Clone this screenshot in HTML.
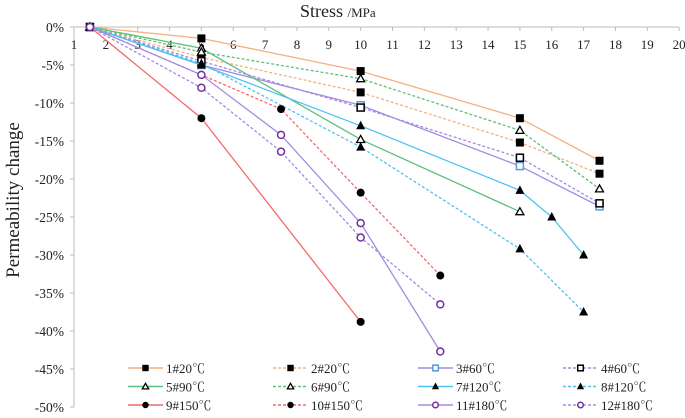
<!DOCTYPE html>
<html><head><meta charset="utf-8"><style>
body{margin:0;background:#fff;}
svg text{font-family:"Liberation Serif","Noto Serif CJK SC",serif;fill:#222;}
</style></head><body>
<svg id="c" width="685" height="413" xmlns="http://www.w3.org/2000/svg"></svg>
<script>
const xTicks=[1,2,3,4,5,6,7,8,9,10,11,12,13,14,15,16,17,18,19,20];
const yTicks=[0,-5,-10,-15,-20,-25,-30,-35,-40,-45,-50];
const names=["1#20℃","2#20℃","3#60℃","4#60℃","5#90℃","6#90℃","7#120℃","8#120℃","9#150℃","10#150℃","11#180℃","12#180℃"];
const xs1=[1.5,5,10,15,17.5];
const xs5=[1.5,5,10,15];
const xs7=[1.5,5,10,15,16,17];
const xs8=[1.5,5,10,15,17];
const xs9=[1.5,5,10];
const xs10=[1.5,5,7.5,10,12.5];
const v1=[0,-1.5,-5.8,-12,-17.6];
const v2=[0,-4,-8.6,-15.2,-19.3];
const v3=[0,-5,-10.3,-18.3,-23.6];
const v4=[0,-4.5,-10.6,-17.2,-23.2];
const v5=[0,-2.8,-14.8,-24.3];
const v6=[0,-3.3,-6.8,-13.6,-21.3];
const v7=[0,-5,-13,-21.5,-25,-30];
const v8=[0,-4.8,-15.8,-29.2,-37.5];
const v9=[0,-12,-38.8];
const v10=[0,-6.3,-10.8,-21.8,-32.7];
const v11=[0,-6.3,-14.2,-25.8,-42.7];
const v12=[0,-8,-16.4,-27.7,-36.5];
const series=[
 [xs1,v1,"#f4b183",false,"fsq"],[xs1,v2,"#f4b183",true,"fsq"],
 [xs1,v3,"#a58be0",false,"osqb"],[xs1,v4,"#a58be0",true,"osq"],
 [xs5,v5,"#5cc07a",false,"otri"],[xs1,v6,"#5cc07a",true,"otri"],
 [xs7,v7,"#4fc3f0",false,"ftri"],[xs8,v8,"#4fc3f0",true,"ftri"],
 [xs9,v9,"#f26b6b",false,"fcir"],[xs10,v10,"#f26b6b",true,"fcir"],
 [xs10,v11,"#a58be0",false,"ocir"],[xs10,v12,"#a58be0",true,"ocir"]];
const svg=document.getElementById('c');const NS="http://www.w3.org/2000/svg";
const X=v=>74+(v-1)*31.85, Y=v=>27-v*7.6;
function mk(t,a,p){const e=document.createElementNS(NS,t);for(const k in a)e.setAttribute(k,a[k]);(p||svg).appendChild(e);return e;}
let e=mk('line',{x1:74,y1:27,x2:679,y2:27,stroke:'#bbb'});


e=mk('line',{x1:74,y1:27,x2:74,y2:407,stroke:'#bbb'});


xTicks.forEach(t=>{mk('line',{x1:X(t),y1:27,x2:X(t),y2:31,stroke:'#bbb'});
 const tx=mk('text',{x:X(t),y:49,'text-anchor':'middle','font-size':13});tx.textContent=t;
 
 });
yTicks.forEach(t=>{mk('line',{x1:70,y1:Y(t),x2:74,y2:Y(t),stroke:'#bbb'});
 const tx=mk('text',{x:64,y:Y(t)+5,'text-anchor':'end','font-size':13.5});tx.textContent=t+'%';
 
 });
let tt=mk('text',{x:300,y:17,'font-size':18});tt.innerHTML='Stress <tspan font-size="13">/MPa</tspan>';


tt=mk('text',{x:0,y:0,'font-size':19,'text-anchor':'middle',transform:'translate(19,200) rotate(-90)'});tt.textContent='Permeability change';


function marker(g,type,x,y,s){s=s||1;
 if(type==='fsq')mk('rect',{x:x-4*s,y:y-4*s,width:8*s,height:8*s,fill:'#000'},g);
 else if(type==='osq')mk('rect',{x:x-3.5*s,y:y-3.5*s,width:7*s,height:7*s,fill:'#fff',stroke:'#000','stroke-width':1.5},g);
 else if(type==='osqb')mk('rect',{x:x-3.5*s,y:y-3.5*s,width:7*s,height:7*s,fill:'#fff',stroke:'#5b9bd5','stroke-width':1.5},g);
 else if(type==='otri')mk('polygon',{points:`${x},${y-4*s} ${x-4*s},${y+3*s} ${x+4*s},${y+3*s}`,fill:'#fff',stroke:'#000','stroke-width':1.3},g);
 else if(type==='ftri')mk('polygon',{points:`${x},${y-5*s} ${x-4.5*s},${y+3.5*s} ${x+4.5*s},${y+3.5*s}`,fill:'#000'},g);
 else if(type==='fcir')mk('circle',{cx:x,cy:y,r:4*s,fill:'#000'},g);
 else mk('circle',{cx:x,cy:y,r:3.5*s,fill:'#fff',stroke:'#7030a0','stroke-width':1.5},g);
}
series.forEach((s,i)=>{const[xs,vs,col,dash,m]=s;
 const g=mk('g',{});
 
 
 mk('polyline',{points:xs.map((x,j)=>X(x)+','+Y(vs[j])).join(' '),fill:'none',stroke:col,'stroke-width':1.3,'stroke-dasharray':dash?'3,2':'none'},g);
 xs.forEach((x,j)=>marker(g,m,X(x),Y(vs[j])));
 const lx=128+(i%4)*145, ly=368+Math.floor(i/4)*18.5;
 const lg=mk('g',{});
 
 
 mk('line',{x1:lx,y1:ly,x2:lx+35,y2:ly,stroke:col,'stroke-width':1.5,'stroke-dasharray':dash?'3,2':'none'},lg);
 marker(lg,m,lx+17.5,ly,0.8);
 const t=mk('text',{x:lx+38,y:ly+5,'font-size':13},lg);t.textContent=names[i];
});
</script>
</body></html>
